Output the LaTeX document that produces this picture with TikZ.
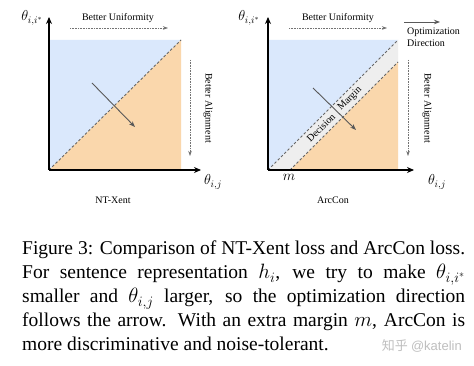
\documentclass[tikz,border=0pt]{standalone}
\usepackage{fontspec}
\setmainfont{Liberation Serif}
\newfontfamily\cjkfont{Noto Sans CJK SC}
\newfontfamily\wmfont{Liberation Sans}
\usetikzlibrary{positioning}
\usetikzlibrary{arrows.meta}
\usepackage{xcolor}
\definecolor{bluefill}{RGB}{218,232,252}
\definecolor{orangefill}{RGB}{250,215,172}
\definecolor{bandfill}{RGB}{238,238,238}
\tikzset{
  axisarrow/.style={-{Stealth[length=7pt,width=6pt]}, line width=1.1pt},
  hintarrow/.style={densely dotted, black!55, line width=0.6pt, -{Stealth[length=5pt,width=3.5pt]}},
  optarrow/.style={black!65, line width=0.9pt, -{Stealth[length=6pt,width=4.5pt]}},
  bound/.style={black!60, line width=0.9pt, dash pattern=on 2.6pt off 2pt},
  lbl/.style={font=\fontsize{10}{11}\selectfont, inner sep=0pt},
  axlbl/.style={font=\fontsize{14}{15}\selectfont, inner sep=0pt},
}

\begin{document}
\begin{tikzpicture}[x=1pt,y=-1pt]
\useasboundingbox[fill=white] (0,0) rectangle (474,366);

% NT-Xent
\begin{scope}
\coordinate (o1) at (49,170);
\coordinate (c1) at (181,40);
\fill[bluefill] (o1)--(49,40)--(c1)--cycle;
\fill[orangefill] (o1)--(181,170)--(c1)--cycle;
\draw[bound] (o1)--(c1);

\coordinate (y1) at (49,17);
\coordinate (x1) at (201,170);
\draw[axisarrow] (o1)--(y1);
\draw[axisarrow] (o1)--(x1);
\node[axlbl] (ylbl1) at (32,18) {$\theta_{i,i^*}$};
\node[axlbl] (xlbl1) at (213,182) {$\theta_{i,j}$};

\node[lbl] (unif1) at (118,18) {Better Uniformity};
\coordinate (ua1) at (70,28);
\coordinate (ub1) at (168,28);
\draw[hintarrow] (ua1)--(ub1);

\node[lbl, rotate=-90] (align1) at (208,108) {Better Alignment};
\coordinate (aa1) at (190,60);
\coordinate (ab1) at (190,156);
\draw[hintarrow] (aa1)--(ab1);

\coordinate (da1) at (92,83);
\coordinate (db1) at (135,127);
\draw[optarrow] (da1)--(db1);

\node[lbl] (name1) at (113,200) {NT-Xent};
\end{scope}

% ArcCon
\begin{scope}
\coordinate (o2) at (268,170);
\coordinate (c2) at (398,40);
\coordinate (m2) at (290,170);
\coordinate (e2) at (398,62);
\fill[bluefill] (o2)--(268,40)--(c2)--cycle;
\fill[bandfill] (o2)--(c2)--(e2)--(m2)--cycle;
\fill[orangefill] (m2)--(398,170)--(e2)--cycle;
\draw[bound] (o2)--(c2);
\draw[bound] (m2)--(e2);

\coordinate (y2) at (268,17);
\coordinate (x2) at (414,170);
\draw[axisarrow] (o2)--(y2);
\draw[axisarrow] (o2)--(x2);
\node[axlbl] (ylbl2) at (249,18) {$\theta_{i,i^*}$};
\node[axlbl] (xlbl2) at (437,182) {$\theta_{i,j}$};
\node[axlbl] (mlbl) at (289,177) {$m$};

\node[lbl] (unif2) at (338,18) {Better Uniformity};
\coordinate (ua2) at (289,28);
\coordinate (ub2) at (387,28);
\draw[hintarrow] (ua2)--(ub2);

\coordinate (oa) at (404,22);
\coordinate (ob) at (440,22);
\draw[optarrow] (oa)--(ob);
\node[lbl, align=left, anchor=north west] (optdir) at (407,28) {Optimization\\[1pt]Direction};

\node[lbl, rotate=-90] (align2) at (427,108) {Better Alignment};
\coordinate (aa2) at (408,60);
\coordinate (ab2) at (408,156);
\draw[hintarrow] (aa2)--(ab2);

\node[lbl, rotate=45] (dec) at (321,128) {Decision};
\node[lbl, rotate=45] (mar) at (350,99) {Margin};

\coordinate (da2) at (313,88);
\coordinate (db2) at (356,130);
\draw[optarrow] (da2)--(db2);

\node[lbl] (name2) at (333,200) {ArcCon};
\end{scope}

% caption
\node[anchor=north west, inner sep=0pt, text width=443pt, align=justify,
      font=\fontsize{19.5}{24}\selectfont] (caption) at (22,241)
{Figure 3: Comparison of NT-Xent loss and ArcCon loss.\linebreak
For sentence representation $h_i$, we try to make $\theta_{i,i^*}$\linebreak
smaller and $\theta_{i,j}$ larger, so the optimization direction\linebreak
follows the arrow. With an extra margin $m$, ArcCon is\linebreak
more discriminative and noise-tolerant.};

\node[anchor=east, inner sep=0pt, text=black!25, font=\fontsize{13}{14}\selectfont] (mark) at (462,346)
{{\cjkfont 知乎} {\wmfont @katelin}};
\end{tikzpicture}
\end{document}
